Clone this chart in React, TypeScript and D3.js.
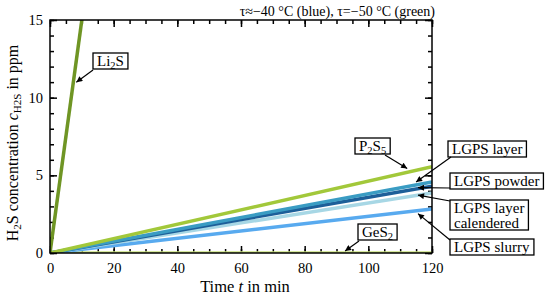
import React, { useEffect, useRef } from 'react';
import * as d3 from 'd3';

// axes
const timeDomain = [0, 120];
const ppmDomain = [0, 15];
const timeMajor = [0, 20, 40, 60, 80, 100, 120];
const timeMinor = d3.range(0, 121, 5);
const ppmMajor = [0, 5, 10, 15];
const ppmMinor = d3.range(0, 16, 1);

// series, [time in min, H2S in ppm]
const ges2 = [[0, 0], [120, 0]];
const lgpsSlurry = [[0, 0], [120, 2.83]];
const lgpsCalendered = [[0, 0], [120, 3.87]];
const lgpsPowder = [[0, 0], [120, 4.3]];
const lgpsLayer = [[0, 0], [120, 4.57]];
const p2s5 = [[0, 0], [120, 5.55]];
const li2s = [[0, 0], [12, 18]];

const seriesList = [ges2, lgpsSlurry, lgpsCalendered, lgpsPowder, lgpsLayer, p2s5, li2s];
const seriesColors = ['#c8e07c', '#58aaef', '#a7d7e5', '#1d5f99', '#3a9cc3', '#a2c83a', '#6f9524'];

// annotation labels: text parts, [text, isSub]
const labelLi2s = [['Li', false], ['2', true], ['S', false]];
const labelP2s5 = [['P', false], ['2', true], ['S', false], ['5', true]];
const labelGes2 = [['Ge', false], ['S', false], ['2', true]];

export default function App() {
  const ref = useRef<SVGSVGElement>(null);

  useEffect(() => {
    const svg = d3.select(ref.current);
    svg.selectAll('*').remove();

    const x = d3.scaleLinear().domain(timeDomain).range([50, 432]);
    const y = d3.scaleLinear().domain(ppmDomain).range([253, 20]);
    const font = 'Liberation Serif';

    svg.append('defs').append('clipPath').attr('id', 'plotclip')
      .append('rect').attr('x', x(0)).attr('y', y(15))
      .attr('width', x(120) - x(0)).attr('height', y(0) - y(15));

    svg.select('defs').append('marker')
      .attr('id', 'arrowhead')
      .attr('viewBox', '0 0 10 10')
      .attr('refX', 10).attr('refY', 5)
      .attr('markerWidth', 8).attr('markerHeight', 6)
      .attr('markerUnits', 'userSpaceOnUse')
      .attr('orient', 'auto')
      .append('path').attr('d', 'M0,0L10,5L0,10z').attr('fill', '#000');

    // ticks, all pointing inward
    const addAxis = (axis: any, tx: number, ty: number, labels: boolean) => {
      const g = svg.append('g').attr('transform', `translate(${tx},${ty})`).call(axis);
      g.select('.domain').remove();
      g.selectAll('line').attr('stroke-width', 1.5);
      g.selectAll('text').attr('font-family', font).attr('font-size', 14.5).attr('fill', '#000');
      if (!labels) g.selectAll('text').remove();
      return g;
    };
    addAxis(d3.axisBottom(x).tickValues(timeMinor).tickSize(-4), 0, y(0), false);
    addAxis(d3.axisBottom(x).tickValues(timeMajor).tickSize(-7).tickPadding(10).tickFormat(d3.format('d')), 0, y(0), true);
    addAxis(d3.axisTop(x).tickValues(timeMinor).tickSize(-4), 0, y(15), false);
    addAxis(d3.axisTop(x).tickValues(timeMajor).tickSize(-7), 0, y(15), false);
    addAxis(d3.axisLeft(y).tickValues(ppmMinor).tickSize(-4), x(0), 0, false);
    addAxis(d3.axisLeft(y).tickValues(ppmMajor).tickSize(-7).tickPadding(7).tickFormat(d3.format('d')), x(0), 0, true);
    addAxis(d3.axisRight(y).tickValues(ppmMinor).tickSize(-4), x(120), 0, false);
    addAxis(d3.axisRight(y).tickValues(ppmMajor).tickSize(-7), x(120), 0, false);

    // lines
    const line = d3.line<number[]>().x(d => x(d[0])).y(d => y(d[1]));
    const lg = svg.append('g').attr('clip-path', 'url(#plotclip)');
    seriesList.forEach((s, i) => {
      lg.append('path').attr('d', line(s)).attr('fill', 'none')
        .attr('stroke', seriesColors[i]).attr('stroke-width', 3.5);
    });

    // frame
    svg.append('rect').attr('x', x(0)).attr('y', y(15))
      .attr('width', x(120) - x(0)).attr('height', y(0) - y(15))
      .attr('fill', 'none').attr('stroke', '#000').attr('stroke-width', 1.5);

    // annotations
    const annotations = [
      { lines: [labelLi2s], series: li2s, t: 7.33, tip: [3, 0], box: [93, 53], from: [0, 17] },
      { lines: [labelP2s5], series: p2s5, t: 112.2, tip: [0, -4], box: [355, 138], from: [30, 17] },
      { lines: [[['LGPS layer', false]]], series: lgpsLayer, t: 115, tip: [0, -3], box: [448, 141], from: [3, 16] },
      { lines: [[['LGPS powder', false]]], series: lgpsPowder, t: 115.6, tip: [0, -1], box: [450, 173], from: [0, 15] },
      { lines: [[['LGPS layer', false]], [['calendered', false]]], series: lgpsCalendered, t: 115.6, tip: [0, 0], box: [450, 200], from: [0, 1] },
      { lines: [[['LGPS slurry', false]]], series: lgpsSlurry, t: 115.6, tip: [0, 3], box: [450, 239], from: [0, 1] },
      { lines: [labelGes2], series: ges2, t: 92.7, tip: [0, -2], box: [358, 224], from: [1, 17] },
    ];

    annotations.forEach(a => {
      const g = svg.append('g');
      const txt = g.append('text').attr('font-family', font).attr('font-size', 15).attr('fill', '#000');
      a.lines.forEach((parts: any[], li: number) => {
        parts.forEach((p: any, pi: number) => {
          const ts = txt.append('tspan').text(p[0]);
          if (pi === 0) ts.attr('x', a.box[0] + 4).attr('y', a.box[1] + 12.5 + li * 15);
          if (p[1]) ts.attr('font-size', 10.5).attr('dy', 3);
          else if (pi > 0 && parts[pi - 1][1]) ts.attr('dy', -3);
        });
      });
      const bb = (txt.node() as SVGTextElement).getBBox();
      const h = a.lines.length === 1 ? 16 : 30;
      g.insert('rect', 'text').attr('x', a.box[0]).attr('y', a.box[1])
        .attr('width', bb.width + 8).attr('height', h)
        .attr('fill', '#fff').attr('stroke', '#000').attr('stroke-width', 1.3);

      const val = d3.scaleLinear().domain(a.series.map(d => d[0])).range(a.series.map(d => d[1]));
      const tx = x(a.t) + a.tip[0];
      const ty = y(val(a.t)) + a.tip[1];
      svg.append('line')
        .attr('x1', a.box[0] + a.from[0]).attr('y1', a.box[1] + a.from[1])
        .attr('x2', tx).attr('y2', ty)
        .attr('stroke', '#000').attr('stroke-width', 1.2)
        .attr('marker-end', 'url(#arrowhead)');
    });

    // title
    svg.append('text').attr('x', 435).attr('y', 16).attr('text-anchor', 'end')
      .attr('font-family', font).attr('font-size', 14)
      .text('τ≈−40 °C (blue), τ=−50 °C (green)');

    // x label
    const xl = svg.append('text').attr('x', (x(0) + x(120)) / 2 + 4).attr('y', 292)
      .attr('text-anchor', 'middle').attr('font-family', font).attr('font-size', 16.5);
    xl.append('tspan').text('Time ');
    xl.append('tspan').attr('font-style', 'italic').text('t');
    xl.append('tspan').text(' in min');

    // y label
    const yl = svg.append('text').attr('transform', 'translate(18,143) rotate(-90)')
      .attr('text-anchor', 'middle').attr('font-family', font).attr('font-size', 16);
    yl.append('tspan').text('H');
    yl.append('tspan').attr('font-size', 11).attr('dy', 3).text('2');
    yl.append('tspan').attr('dy', -3).text('S concentration ');
    yl.append('tspan').attr('font-style', 'italic').text('c');
    yl.append('tspan').attr('font-size', 11).attr('dy', 3).text('H2S');
    yl.append('tspan').attr('dy', -3).text(' in ppm');
  }, []);

  return (
    <svg ref={ref} width={550} height={297}
      style={{ position: 'absolute', left: 0, top: 0, background: '#fff' }} />
  );
}
